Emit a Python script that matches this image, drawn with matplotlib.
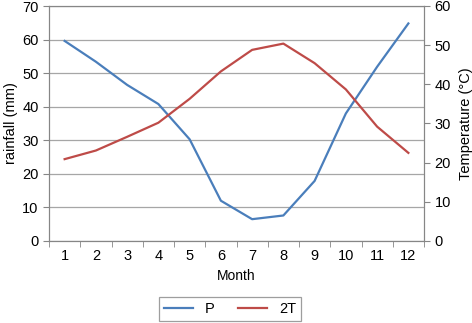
import matplotlib
matplotlib.use("Agg")
import matplotlib.pyplot as plt
import numpy as np

plt.rcParams["font.family"] = ["Liberation Sans", "DejaVu Sans"]

months = [1, 2, 3, 4, 5, 6, 7, 8, 9, 10, 11, 12]
rain_p = [59.6, 53.4, 46.5, 40.8, 30.3, 12.0, 6.5, 7.6, 17.9, 38.0, 51.9, 64.8]
temp_2t = [20.9, 23.1, 26.6, 30.2, 36.3, 43.3, 48.8, 50.4, 45.4, 38.7, 29.2, 22.5]

BLUE = "#4a7ebb"
RED = "#be4b48"
AXIS = "#868686"

fig = plt.figure(figsize=(4.72, 3.23), dpi=100)
ax = fig.add_axes([49 / 472, 1 - 241 / 323, 375 / 472, 235 / 323])
ax2 = ax.twinx()

l1, = ax.plot(months, rain_p, color=BLUE, lw=1.6, label="P")
l2, = ax2.plot(months, temp_2t, color=RED, lw=1.6, label="2T")

ax.set_xlim(0.5, 12.5)
ax.set_ylim(0, 70)
ax2.set_ylim(0, 60)
ax.set_yticks(np.arange(0, 71, 10))
ax2.set_yticks(np.arange(0, 61, 10))

ax.set_xticks(months)
ax.set_xticks(np.arange(0.5, 13, 1), minor=True)
ax.tick_params(axis="x", which="major", length=0, pad=6, labelsize=10.5)
ax.tick_params(axis="x", which="minor", length=4, color=AXIS, direction="out")
ax.tick_params(axis="y", length=4, color=AXIS, labelsize=10.5)
ax2.tick_params(axis="y", length=4, color=AXIS, labelsize=10.5)

ax.grid(axis="y", color="#a6a6a6", lw=0.9)
ax.set_axisbelow(True)
for a in (ax, ax2):
    for s in a.spines.values():
        s.set_color(AXIS)

ax.set_xlabel("Month", fontsize=10, labelpad=4)
ax.set_ylabel("rainfall (mm)", fontsize=10.5, labelpad=3)
ax2.set_ylabel("Temperature (°C)", fontsize=10.5, labelpad=6)

leg = fig.legend(handles=[l1, l2], loc="center", bbox_to_anchor=(230 / 472, 1 - 309 / 323),
                 ncol=2, fontsize=10.5, frameon=True, fancybox=False, handlelength=2.0,
                 columnspacing=1.6, borderpad=0.35)
leg.get_frame().set_edgecolor(AXIS)
leg.get_frame().set_linewidth(0.9)

fig.savefig("out.png", dpi=100)
